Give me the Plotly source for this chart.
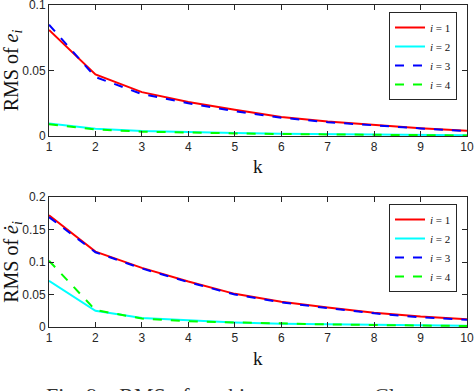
import plotly.graph_objects as go

k = [1, 2, 3, 4, 5, 6, 7, 8, 9, 10]

# top panel: RMS of e_i
e1 = [0.081, 0.047, 0.0335, 0.026, 0.020, 0.0145, 0.011, 0.0084, 0.006, 0.004]
e2 = [0.0095, 0.0055, 0.0038, 0.0028, 0.0022, 0.0017, 0.0013, 0.0010, 0.0008, 0.0006]
e3 = [0.085, 0.045, 0.032, 0.025, 0.019, 0.014, 0.0105, 0.008, 0.0058, 0.0038]
e4 = [0.0090, 0.0050, 0.0033, 0.0025, 0.0020, 0.0015, 0.0011, 0.0008, 0.0006, 0.0004]

# bottom panel: RMS of e_i dot
d1 = [0.172, 0.116, 0.091, 0.070, 0.051, 0.039, 0.030, 0.022, 0.016, 0.012]
d2 = [0.071, 0.025, 0.014, 0.010, 0.007, 0.005, 0.004, 0.003, 0.0025, 0.002]
d3 = [0.169, 0.115, 0.090, 0.069, 0.050, 0.038, 0.029, 0.021, 0.015, 0.011]
d4 = [0.102, 0.026, 0.013, 0.009, 0.007, 0.005, 0.004, 0.003, 0.002, 0.0015]

names = ["<i>i</i> = 1", "<i>i</i> = 2", "<i>i</i> = 3", "<i>i</i> = 4"]
colors = ["#ff0000", "#00ffff", "#0000ff", "#00ff00"]
dashes = ["solid", "solid", "dash", "dash"]

W, H = 474, 391
fig = go.Figure()

for series, leg, xa, ya in [([e1, e2, e3, e4], "legend", "x", "y"),
                            ([d1, d2, d3, d4], "legend2", "x2", "y2")]:
    for vals, nm, c, d in zip(series, names, colors, dashes):
        fig.add_trace(go.Scatter(x=k, y=vals, mode="lines", name=nm,
                                 line=dict(color=c, width=2, dash=d),
                                 xaxis=xa, yaxis=ya, legend=leg))

serif = "Liberation Serif, Times New Roman, serif"
sans = "Liberation Sans, Arial, sans-serif"
axcol = "#262626"

xcommon = dict(range=[1, 10], tickvals=k, ticks="inside", ticklen=5,
               showline=True, linecolor=axcol, linewidth=1, mirror="allticks",
               showgrid=False, zeroline=False, tickcolor=axcol, automargin=False,
               ticklabeloverflow="allow",
               tickfont=dict(family=sans, size=12, color=axcol),
               domain=[49 / W, 467 / W])
ycommon = dict(ticks="inside", ticklen=5, showline=True, linecolor=axcol, linewidth=1,
               mirror="allticks", showgrid=False, zeroline=False, tickcolor=axcol,
               automargin=False, ticklabeloverflow="allow",
               tickfont=dict(family=sans, size=12, color=axcol))

leg_common = dict(x=457 / W, xanchor="right", yanchor="top",
                  bordercolor=axcol, borderwidth=1, bgcolor="white",
                  font=dict(family=serif, size=11, color="#111"), tracegroupgap=0)

xlabel = dict(text="k", showarrow=False, xanchor="center", yanchor="middle",
              font=dict(family=serif, size=19, color="#111"), x=0.5)

fig.update_layout(
    width=W, height=H, margin=dict(l=0, r=0, t=0, b=0, autoexpand=False),
    paper_bgcolor="white", plot_bgcolor="white",
    xaxis=dict(**xcommon, anchor="y"),
    xaxis2=dict(**xcommon, anchor="y2"),
    yaxis=dict(**ycommon, anchor="x", range=[0, 0.1], tickvals=[0, 0.05, 0.1],
               ticktext=["0", "0.05", "0.1"], domain=[1 - 136 / H, 1 - 5 / H],
               title=dict(text="RMS of <i>e<sub>i</sub></i>",
                          font=dict(family=serif, size=20, color="#111"))),
    yaxis2=dict(**ycommon, anchor="x2", range=[0, 0.2],
                tickvals=[0, 0.05, 0.1, 0.15, 0.2],
                ticktext=["0", "0.05", "0.1", "0.15", "0.2"],
                domain=[1 - 327 / H, 1 - 197 / H],
                title=dict(text="RMS of <i>ė<sub>i</sub></i>",
                           font=dict(family=serif, size=20, color="#111"))),
    legend=dict(**leg_common, y=1 - 12 / H),
    legend2=dict(**leg_common, y=1 - 204 / H),
    annotations=[
        dict(**xlabel, xref="x domain", yref="paper", y=1 - 166 / H),
        dict(**xlabel, xref="x2 domain", yref="paper", y=1 - 358 / H),
        dict(text="Fig. 9.&nbsp;&nbsp;&nbsp;RMS of tracking errors over Cl",
             xref="paper", yref="paper", x=44 / W, y=1 - 381 / H,
             xanchor="left", yanchor="top", showarrow=False,
             font=dict(family=serif, size=22, color="#333")),
    ],
)

fig.write_html("out.html", config={"displayModeBar": False},
               post_script="document.body.style.margin='0px';"
                           "document.body.style.overflow='hidden';")
